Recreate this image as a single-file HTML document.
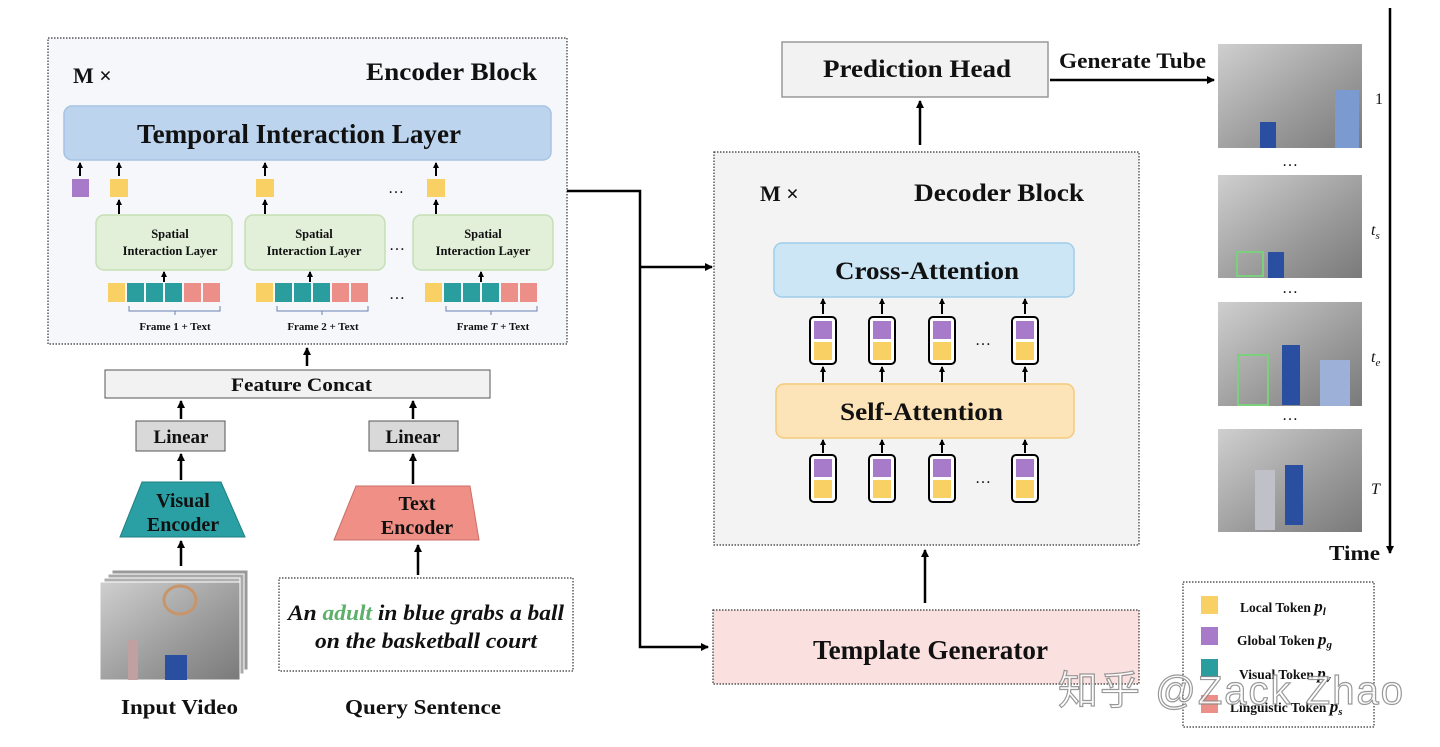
<!DOCTYPE html>
<html><head><meta charset="utf-8"><style>
html,body{margin:0;padding:0;background:#fff;}
svg{display:block;}
text{font-family:"Liberation Serif",serif;font-weight:bold;fill:#111;}
text.n{font-weight:normal;}
</style></head><body>
<svg width="1440" height="747" viewBox="0 0 1440 747" xmlns="http://www.w3.org/2000/svg">
<defs>
<marker id="ah" markerWidth="8" markerHeight="8" refX="7" refY="4" orient="auto" markerUnits="userSpaceOnUse">
<path d="M0,0 L8,4 L0,8 z" fill="#000"/></marker>
<marker id="as" markerWidth="6" markerHeight="6" refX="5" refY="3" orient="auto" markerUnits="userSpaceOnUse">
<path d="M0,0 L6,3 L0,6 z" fill="#000"/></marker>
<linearGradient id="ph" x1="0" y1="0" x2="1" y2="1"><stop offset="0" stop-color="#cfcfcf"/><stop offset="0.6" stop-color="#9a9a9a"/><stop offset="1" stop-color="#7a7a7a"/></linearGradient>
</defs>

<!-- Encoder block -->
<rect x="48" y="38" width="519" height="306" fill="#f6f7fb" stroke="#333" stroke-width="1.2" stroke-dasharray="1.5,1.5"/>
<text x="73" y="83" font-size="22">M ×</text>
<text x="366" y="80" font-size="25" textLength="171" lengthAdjust="spacingAndGlyphs">Encoder Block</text>
<rect x="64" y="106" width="487" height="54" rx="8" fill="#bcd4ee" stroke="#a6c3e3" stroke-width="1.5"/>
<text x="137" y="143" font-size="27" textLength="324" lengthAdjust="spacingAndGlyphs">Temporal Interaction Layer</text>

<rect x="72" y="179" width="17" height="18" fill="#a77bc9"/>
<line x1="80" y1="176" x2="80" y2="163" stroke="#000" stroke-width="2" marker-end="url(#as)"/>
<g fill="#f9d064">
<rect x="110" y="179" width="18" height="18"/><rect x="256" y="179" width="18" height="18"/><rect x="427" y="179" width="18" height="18"/></g>
<g stroke="#000" stroke-width="2">
<line x1="119" y1="176" x2="119" y2="163" marker-end="url(#as)"/>
<line x1="265" y1="176" x2="265" y2="163" marker-end="url(#as)"/>
<line x1="436" y1="176" x2="436" y2="163" marker-end="url(#as)"/>
<line x1="119" y1="214" x2="119" y2="200" marker-end="url(#as)"/>
<line x1="265" y1="214" x2="265" y2="200" marker-end="url(#as)"/>
<line x1="436" y1="214" x2="436" y2="200" marker-end="url(#as)"/>
<line x1="164" y1="282" x2="164" y2="272" marker-end="url(#as)"/>
<line x1="310" y1="282" x2="310" y2="272" marker-end="url(#as)"/>
<line x1="481" y1="282" x2="481" y2="272" marker-end="url(#as)"/>
</g>
<text class="n" x="388" y="193" font-size="16">…</text>
<g fill="#e2efd9" stroke="#c5dfb5" stroke-width="1.5">
<rect x="96" y="215" width="136" height="55" rx="8"/><rect x="245" y="215" width="140" height="55" rx="8"/><rect x="413" y="215" width="140" height="55" rx="8"/></g>
<g font-size="12.5" text-anchor="middle">
<text x="170" y="238">Spatial</text><text x="170" y="255">Interaction Layer</text>
<text x="314" y="238">Spatial</text><text x="314" y="255">Interaction Layer</text>
<text x="483" y="238">Spatial</text><text x="483" y="255">Interaction Layer</text></g>
<text class="n" x="389" y="250" font-size="16">…</text>
<text class="n" x="389" y="299" font-size="16">…</text>
<g>
<g transform="translate(108,283)"><rect width="17" height="19" fill="#f9d064"/><rect x="19" width="17" height="19" fill="#2a9d9f"/><rect x="38" width="17" height="19" fill="#2a9d9f"/><rect x="57" width="17" height="19" fill="#2a9d9f"/><rect x="76" width="17" height="19" fill="#ec8f88"/><rect x="95" width="17" height="19" fill="#ec8f88"/></g>
<g transform="translate(256,283)"><rect width="17" height="19" fill="#f9d064"/><rect x="19" width="17" height="19" fill="#2a9d9f"/><rect x="38" width="17" height="19" fill="#2a9d9f"/><rect x="57" width="17" height="19" fill="#2a9d9f"/><rect x="76" width="17" height="19" fill="#ec8f88"/><rect x="95" width="17" height="19" fill="#ec8f88"/></g>
<g transform="translate(425,283)"><rect width="17" height="19" fill="#f9d064"/><rect x="19" width="17" height="19" fill="#2a9d9f"/><rect x="38" width="17" height="19" fill="#2a9d9f"/><rect x="57" width="17" height="19" fill="#2a9d9f"/><rect x="76" width="17" height="19" fill="#ec8f88"/><rect x="95" width="17" height="19" fill="#ec8f88"/></g>
</g>
<g fill="none" stroke="#6a7fb0" stroke-width="1">
<path d="M129,306 v5 h91 v-5 M175,311 v4"/><path d="M277,306 v5 h91 v-5 M322,311 v4"/><path d="M446,306 v5 h91 v-5 M491,311 v4"/></g>
<g font-size="11" text-anchor="middle">
<text x="175" y="330">Frame 1 + Text</text><text x="323" y="330">Frame 2 + Text</text><text x="493" y="330">Frame <tspan font-style="italic">T</tspan> + Text</text></g>

<!-- lower left -->
<line x1="307" y1="366" x2="307" y2="348" stroke="#000" stroke-width="2.5" marker-end="url(#ah)"/>
<rect x="105" y="370" width="385" height="28" fill="#f2f2f2" stroke="#555" stroke-width="1"/>
<text x="231" y="391" font-size="19" textLength="141" lengthAdjust="spacingAndGlyphs">Feature Concat</text>
<g stroke="#000" stroke-width="2.5">
<line x1="181" y1="419" x2="181" y2="401" marker-end="url(#ah)"/>
<line x1="413" y1="419" x2="413" y2="401" marker-end="url(#ah)"/>
<line x1="181" y1="480" x2="181" y2="454" marker-end="url(#ah)"/>
<line x1="413" y1="484" x2="413" y2="454" marker-end="url(#ah)"/>
<line x1="181" y1="566" x2="181" y2="541" marker-end="url(#ah)"/>
<line x1="418" y1="575" x2="418" y2="545" marker-end="url(#ah)"/>
</g>
<rect x="136" y="421" width="89" height="30" fill="#d9d9d9" stroke="#555"/>
<rect x="369" y="421" width="89" height="30" fill="#d9d9d9" stroke="#555"/>
<text x="181" y="443" font-size="19" text-anchor="middle">Linear</text>
<text x="413" y="443" font-size="19" text-anchor="middle">Linear</text>
<polygon points="142,482 221,482 245,537 120,537" fill="#2aa0a4" stroke="#1f7f82"/>
<polygon points="356,486 470,486 479,540 334,540" fill="#ef8f86" stroke="#c96f68"/>
<text x="183" y="507" font-size="20" text-anchor="middle">Visual</text><text x="183" y="531" font-size="20" text-anchor="middle">Encoder</text>
<text x="417" y="510" font-size="20" text-anchor="middle">Text</text><text x="417" y="534" font-size="20" text-anchor="middle">Encoder</text>

<g stroke="#fff" stroke-width="1">
<rect x="112" y="570" width="136" height="100" fill="#999"/>
<rect x="108" y="574" width="136" height="100" fill="#aaa"/>
<rect x="104" y="578" width="136" height="100" fill="#b0b0b0"/>
<rect x="100" y="582" width="140" height="98" fill="url(#ph)"/></g>
<ellipse cx="180" cy="600" rx="16" ry="14" fill="none" stroke="#c8946a" stroke-width="3"/>
<rect x="165" y="655" width="22" height="25" fill="#2a4fa0"/>
<rect x="128" y="640" width="10" height="40" fill="#c0a0a0"/>
<rect x="279" y="578" width="294" height="93" fill="#fff" stroke="#333" stroke-width="1.2" stroke-dasharray="1.5,1.5"/>
<text x="288" y="620" font-size="22" font-style="italic" textLength="276" lengthAdjust="spacingAndGlyphs">An <tspan fill="#5cb06a">adult</tspan> in blue grabs a ball</text>
<text x="315" y="648" font-size="22" font-style="italic" textLength="222" lengthAdjust="spacingAndGlyphs">on the basketball court</text>
<text x="121" y="714" font-size="21" textLength="117" lengthAdjust="spacingAndGlyphs">Input Video</text>
<text x="345" y="714" font-size="21" textLength="156" lengthAdjust="spacingAndGlyphs">Query Sentence</text>

<!-- connectors -->
<path d="M567,191 H640 V647 H708" fill="none" stroke="#000" stroke-width="2.5" marker-end="url(#ah)"/>
<line x1="640" y1="267" x2="712" y2="267" stroke="#000" stroke-width="2.5" marker-end="url(#ah)"/>

<!-- decoder -->
<rect x="714" y="152" width="425" height="393" fill="#f3f3f3" stroke="#333" stroke-width="1.2" stroke-dasharray="1.5,1.5"/>
<text x="760" y="201" font-size="22">M ×</text>
<text x="914" y="201" font-size="25" textLength="170" lengthAdjust="spacingAndGlyphs">Decoder Block</text>
<rect x="774" y="243" width="300" height="54" rx="8" fill="#cde6f6" stroke="#9fcdea" stroke-width="1.5"/>
<text x="835" y="279" font-size="25" textLength="184" lengthAdjust="spacingAndGlyphs">Cross-Attention</text>
<rect x="776" y="384" width="298" height="54" rx="8" fill="#fde4b8" stroke="#f5c97a" stroke-width="1.5"/>
<text x="840" y="420" font-size="25" textLength="163" lengthAdjust="spacingAndGlyphs">Self-Attention</text>
<g id="pills">
<g transform="translate(810,317)"><rect width="26" height="47" rx="4" fill="#fff" stroke="#000" stroke-width="2"/><rect x="4" y="4" width="18" height="18" fill="#a77bc9"/><rect x="4" y="25" width="18" height="18" fill="#f9d064"/></g>
<g transform="translate(869,317)"><rect width="26" height="47" rx="4" fill="#fff" stroke="#000" stroke-width="2"/><rect x="4" y="4" width="18" height="18" fill="#a77bc9"/><rect x="4" y="25" width="18" height="18" fill="#f9d064"/></g>
<g transform="translate(929,317)"><rect width="26" height="47" rx="4" fill="#fff" stroke="#000" stroke-width="2"/><rect x="4" y="4" width="18" height="18" fill="#a77bc9"/><rect x="4" y="25" width="18" height="18" fill="#f9d064"/></g>
<g transform="translate(1012,317)"><rect width="26" height="47" rx="4" fill="#fff" stroke="#000" stroke-width="2"/><rect x="4" y="4" width="18" height="18" fill="#a77bc9"/><rect x="4" y="25" width="18" height="18" fill="#f9d064"/></g>
</g>
<use href="#pills" transform="translate(0,138)"/>
<text class="n" x="975" y="345" font-size="16">…</text>
<text class="n" x="975" y="483" font-size="16">…</text>
<g stroke="#000" stroke-width="2">
<line x1="823" y1="314" x2="823" y2="299" marker-end="url(#as)"/><line x1="882" y1="314" x2="882" y2="299" marker-end="url(#as)"/><line x1="942" y1="314" x2="942" y2="299" marker-end="url(#as)"/><line x1="1025" y1="314" x2="1025" y2="299" marker-end="url(#as)"/>
<line x1="823" y1="382" x2="823" y2="367" marker-end="url(#as)"/><line x1="882" y1="382" x2="882" y2="367" marker-end="url(#as)"/><line x1="942" y1="382" x2="942" y2="367" marker-end="url(#as)"/><line x1="1025" y1="382" x2="1025" y2="367" marker-end="url(#as)"/>
<line x1="823" y1="453" x2="823" y2="440" marker-end="url(#as)"/><line x1="882" y1="453" x2="882" y2="440" marker-end="url(#as)"/><line x1="942" y1="453" x2="942" y2="440" marker-end="url(#as)"/><line x1="1025" y1="453" x2="1025" y2="440" marker-end="url(#as)"/>
</g>
<rect x="782" y="42" width="266" height="55" fill="#f2f2f2" stroke="#999" stroke-width="1.5"/>
<text x="823" y="77" font-size="25" textLength="188" lengthAdjust="spacingAndGlyphs">Prediction Head</text>
<line x1="920" y1="145" x2="920" y2="101" stroke="#000" stroke-width="2.5" marker-end="url(#ah)"/>
<line x1="1050" y1="80" x2="1214" y2="80" stroke="#000" stroke-width="2.5" marker-end="url(#ah)"/>
<text x="1059" y="68" font-size="22" textLength="147" lengthAdjust="spacingAndGlyphs">Generate Tube</text>
<line x1="925" y1="603" x2="925" y2="550" stroke="#000" stroke-width="2.5" marker-end="url(#ah)"/>
<rect x="713" y="610" width="426" height="74" fill="#fbe0e0" stroke="#333" stroke-width="1.2" stroke-dasharray="1.5,1.5"/>
<text x="813" y="659" font-size="27" textLength="235" lengthAdjust="spacingAndGlyphs">Template Generator</text>

<!-- frames -->
<g>
<rect x="1218" y="44" width="144" height="104" fill="url(#ph)"/>
<rect x="1218" y="175" width="144" height="103" fill="url(#ph)"/>
<rect x="1218" y="302" width="144" height="104" fill="url(#ph)"/>
<rect x="1218" y="429" width="144" height="103" fill="url(#ph)"/>
<rect x="1260" y="122" width="16" height="26" fill="#2a4fa0"/><rect x="1335" y="90" width="24" height="58" fill="#7a9ad0"/>
<rect x="1268" y="252" width="16" height="26" fill="#2a4fa0"/><rect x="1237" y="252" width="26" height="24" fill="none" stroke="#7ccf7c" stroke-width="2"/>
<rect x="1282" y="345" width="18" height="60" fill="#2a4fa0"/><rect x="1238" y="355" width="30" height="50" fill="none" stroke="#7ccf7c" stroke-width="2"/><rect x="1320" y="360" width="30" height="46" fill="#9cb0d8"/>
<rect x="1285" y="465" width="18" height="60" fill="#2a4fa0"/><rect x="1255" y="470" width="20" height="60" fill="#c0c0c8"/>
</g>
<g font-size="16" text-anchor="middle"><text class="n" x="1290" y="166">…</text><text class="n" x="1290" y="293">…</text><text class="n" x="1290" y="420">…</text></g>
<line x1="1390" y1="8" x2="1390" y2="553" stroke="#000" stroke-width="2.5" marker-end="url(#ah)"/>
<text x="1329" y="560" font-size="21" textLength="51" lengthAdjust="spacingAndGlyphs">Time</text>
<g font-size="16" font-style="italic">
<text class="n" x="1375" y="104" font-style="normal">1</text>
<text class="n" x="1371" y="235">t<tspan font-size="11" dy="4">s</tspan></text>
<text class="n" x="1371" y="362">t<tspan font-size="11" dy="4">e</tspan></text>
<text class="n" x="1371" y="494">T</text></g>

<!-- legend -->
<rect x="1183" y="582" width="191" height="145" fill="#fff" stroke="#333" stroke-width="1.2" stroke-dasharray="1.5,1.5"/>
<rect x="1201" y="596" width="17" height="18" fill="#f9d064"/>
<rect x="1201" y="627" width="17" height="18" fill="#a77bc9"/>
<rect x="1201" y="659" width="17" height="18" fill="#2a9d9f"/>
<rect x="1201" y="695" width="17" height="18" fill="#ec8f88"/>
<g font-size="13.5">
<text x="1240" y="612">Local Token <tspan font-size="17" font-style="italic">p<tspan font-size="11" dy="3">l</tspan></tspan></text>
<text x="1237" y="645">Global Token <tspan font-size="17" font-style="italic">p<tspan font-size="11" dy="3">g</tspan></tspan></text>
<text x="1239" y="679">Visual Token <tspan font-size="17" font-style="italic">p<tspan font-size="11" dy="3">v</tspan></tspan></text>
<text x="1230" y="712">Linguistic Token <tspan font-size="17" font-style="italic">p<tspan font-size="11" dy="3">s</tspan></tspan></text></g>
<text class="n" x="1058" y="704" style="font-family:'Liberation Sans','Noto Sans CJK SC',sans-serif;font-weight:normal;fill:#fff;" font-size="40" stroke="#888" stroke-width="1.2" opacity="0.85" textLength="345">知乎 @Zack Zhao</text>
</svg>
</body></html>
